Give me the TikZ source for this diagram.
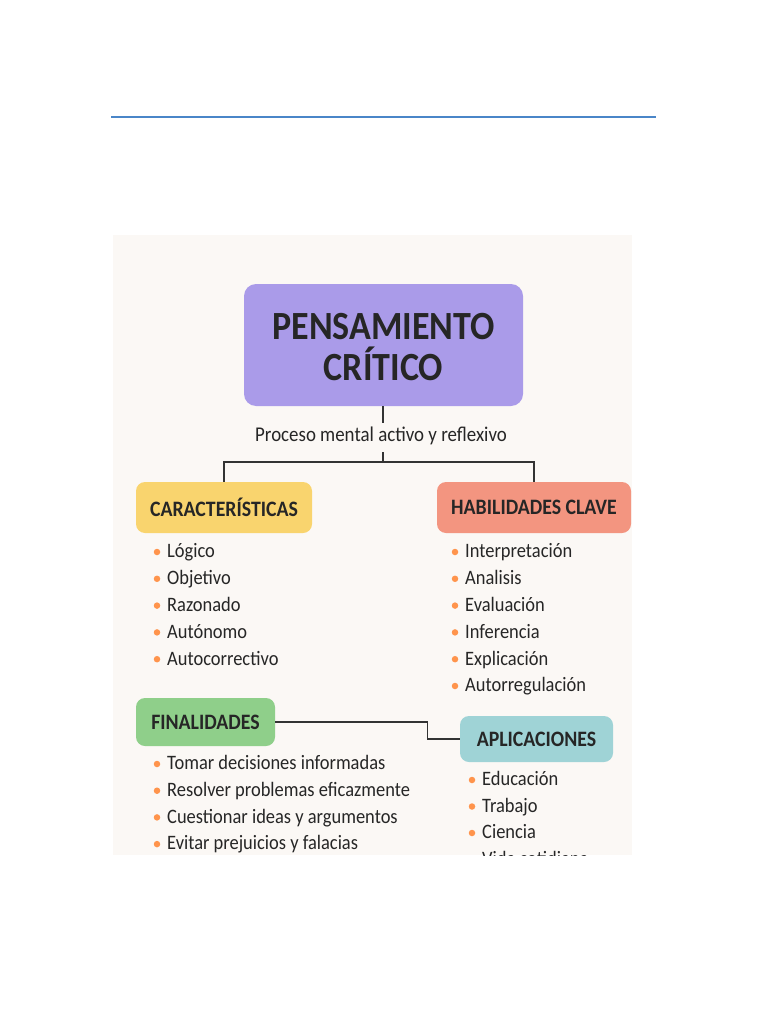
\documentclass[tikz,border=0pt]{standalone}
\usepackage{fontspec}
\setmainfont{Carlito}[FakeStretch=0.9]
\begin{document}
\begin{tikzpicture}[x=1pt,y=-1pt,
  box/.style={rounded corners=9pt,inner sep=0pt,font=\bfseries\fontsize{22}{24}\selectfont,text=black!85},
  item/.style={anchor=west,inner sep=0pt,text height=1.5ex,text depth=.3ex,font=\fontsize{20.5}{22}\selectfont,text=black!85},
  dot/.style={circle,fill=orange!80!red!70,inner sep=0pt,minimum size=6.5pt},
  conn/.style={line width=1.2pt,black!80}]
\useasboundingbox (0,0) rectangle (768,1024);
\fill[white] (0,0) rectangle (768,1024);
\draw[line width=1.2pt,color={rgb,255:red,74;green,134;blue,200}] (111,117) coordinate(l1) -- (656,117) coordinate(l2);
\fill[color={rgb,255:red,251;green,248;blue,245}] (113,235) rectangle (632,855);
\node[box,fill={rgb,255:red,170;green,155;blue,233},minimum width=279pt,minimum height=122pt,rounded corners=12pt] (t) at (383.5,345) {};
\node[align=center,inner sep=0pt,font=\bfseries\fontsize{40}{41}\selectfont,text=black!85] (tt) at (383.5,347) {PENSAMIENTO\\CRÍTICO};
\node[inner sep=0pt,text height=1.5ex,text depth=.3ex,font=\fontsize{21}{22}\selectfont,text=black!85] (p) at (381,439) {Proceso mental activo y reflexivo};
\node[box,fill={rgb,255:red,249;green,212;blue,110},minimum width=176pt,minimum height=51pt] (c) at (224,507.5) {CARACTERÍSTICAS};
\node[box,fill={rgb,255:red,243;green,149;blue,128},minimum width=194pt,minimum height=51pt] (h) at (534,507.5) {HABILIDADES CLAVE};
\node[box,fill={rgb,255:red,143;green,207;blue,138},minimum width=139pt,minimum height=48pt] (f) at (205.5,722) {FINALIDADES};
\node[box,fill={rgb,255:red,159;green,211;blue,214},minimum width=153pt,minimum height=46pt] (a) at (536.5,739) {APLICACIONES};
\coordinate (j) at (383,462);
\draw[conn] (t.south -| j) -- (383,423);
\draw[conn] (383,452) -- (j);
\draw[conn] (j) -| (c.north);
\draw[conn] (j) -| (h.north);
\draw[conn] (f.east) -- ++(152,0) |- (a.west);
\foreach \t [count=\i] in {Lógico,Objetivo,Razonado,Autónomo,Autocorrectivo}{
  \node[dot] (cd\i) at (157,{552+26.8*(\i-1)}) {};
  \node[item] (ct\i) at (167,{555+26.8*(\i-1)}) {\t};}
\foreach \t [count=\i] in {Interpretación,Analisis,Evaluación,Inferencia,Explicación,Autorregulación}{
  \node[dot] (hd\i) at (455,{552+26.8*(\i-1)}) {};
  \node[item] (ht\i) at (465,{555+26.8*(\i-1)}) {\t};}
\foreach \t [count=\i] in {Tomar decisiones informadas,Resolver problemas eficazmente,Cuestionar ideas y argumentos,Evitar prejuicios y falacias}{
  \node[dot] (fd\i) at (157,{764+26.7*(\i-1)}) {};
  \node[item] (ft\i) at (167,{767+26.7*(\i-1)}) {\t};}
\foreach \t [count=\i] in {Educación,Trabajo,Ciencia}{
  \node[dot] (ad\i) at (472,{780+26.5*(\i-1)}) {};
  \node[item] (at\i) at (482,{783+26.5*(\i-1)}) {\t};}
\begin{scope}
\clip (113,850) rectangle (632,855);
\node[item] (at4) at (482,862.5) {Vida cotidiana};
\end{scope}
\end{tikzpicture}
\end{document}
